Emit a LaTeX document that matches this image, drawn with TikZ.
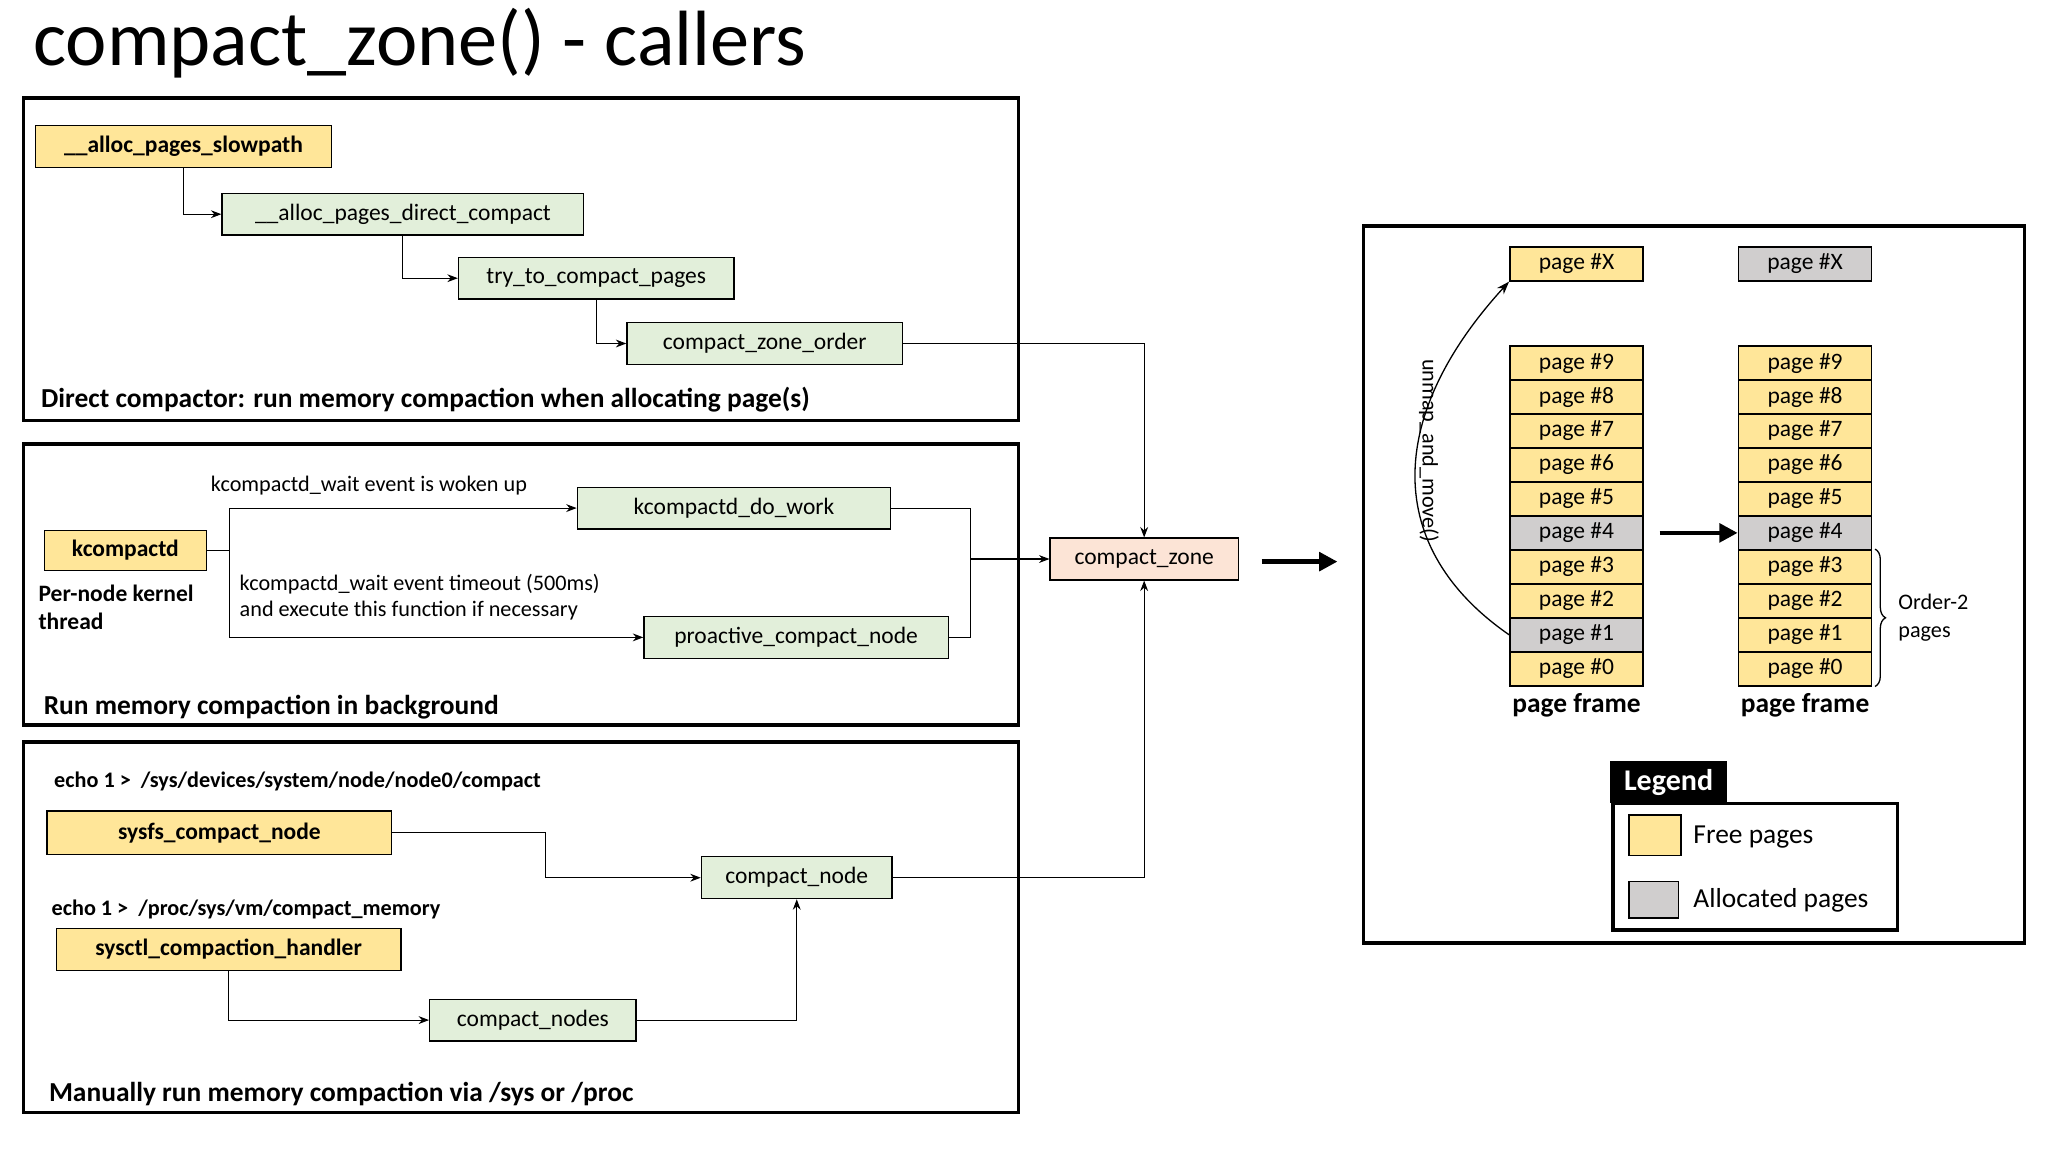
\documentclass[tikz,border=0pt]{standalone}
\usepackage{fontspec}
\setmainfont{Carlito}
\usetikzlibrary{arrows.meta,positioning,decorations.pathreplacing,calc}

\definecolor{freeyel}{RGB}{255,230,153}
\definecolor{fngreen}{RGB}{226,239,218}
\definecolor{zonepeach}{RGB}{252,228,214}
\definecolor{allocgray}{RGB}{208,206,206}

\tikzset{
  fn/.style={draw, line width=1pt, fill=fngreen, inner sep=0pt, font=\fontsize{18}{20}\selectfont},
  entry/.style={fn, fill=freeyel, font=\fontsize{18}{20}\selectfont\bfseries},
  group/.style={draw, line width=2.5pt},
  caption/.style={anchor=base west, font=\fontsize{21}{24}\selectfont\bfseries},
  note/.style={anchor=base west, font=\fontsize{17}{20}\selectfont, align=left},
  call/.style={-{Stealth[length=8pt,width=6pt]}, line width=0.8pt},
  page/.style={draw, line width=1.2pt, fill=freeyel, minimum width=102pt, minimum height=26pt, inner sep=0pt, font=\fontsize{18}{20}\selectfont},
  used/.style={page, fill=allocgray},
  bigarrow/.style={-{Triangle[length=14pt,width=14pt]}, line width=4pt}
}

\begin{document}
\begin{tikzpicture}[x=1pt,y=-1pt]
\useasboundingbox (0,0) rectangle (1568,882);
\node[anchor=base west, font=\fontsize{60}{66}\selectfont] (title) at (22,50) {compact\_zone() - callers};
%----------group frames------------------------
\draw[group] (18,75) rectangle (780,322);
\draw[group] (18,340) rectangle (780,555);
\draw[group] (18,568) rectangle (780,852);
\draw[group] (1044,173) rectangle (1550,722);
%----------direct compactor--------------------
\node[entry, minimum width=227pt, minimum height=32pt] (slow) at (140.5,112) {\_\_alloc\_pages\_slowpath};
\node[fn, minimum width=277pt, minimum height=32pt] (direct) at (308.5,164) {\_\_alloc\_pages\_direct\_compact};
\node[fn, minimum width=211pt, minimum height=32pt] (try) at (456.5,213) {try\_to\_compact\_pages};
\node[fn, minimum width=211pt, minimum height=32pt] (order) at (585.5,263) {compact\_zone\_order};
\draw[call] (slow.south) |- (direct.west);
\draw[call] (direct.south) |- (try.west);
\draw[call] (try.south) |- (order.west);
\node[caption] (cap1) at (28,312) {Direct compactor: run memory compaction when allocating page(s)};
%----------compact_zone------------------------
\node[fn, fill=zonepeach, minimum width=144pt, minimum height=32pt] (zone) at (876,428) {compact\_zone};
\draw[call] (order.east) -| (zone.north);
%----------background--------------------------
\node[entry, minimum width=124pt, minimum height=31pt] (kcd) at (96,421.5) {kcompactd};
\node[note, font=\fontsize{18}{22}\selectfont\bfseries, anchor=north west] (kcdnote) at (26,444) {Per-node kernel\\thread};
\node[fn, minimum width=240pt, minimum height=32pt] (work) at (562,389) {kcompactd\_do\_work};
\node[fn, minimum width=233pt, minimum height=32pt] (proact) at (609.5,488) {proactive\_compact\_node};
\coordinate (fork) at (176,421.5);
\coordinate (join) at (743,428);
\draw[line width=0.8pt] (kcd.east) -- (fork);
\draw[call] (fork) |- (work.west);
\draw[call] (fork) |- (proact.west);
\draw[line width=0.8pt] (work.east) -| (join) |- (proact.east);
\draw[call] (join) -- (zone.west);
\node[note] (woken) at (158,376) {kcompactd\_wait event is woken up};
\node[note, anchor=north west] (timeout) at (180,436) {kcompactd\_wait event timeout (500ms)\\and execute this function if necessary};
\node[caption] (cap2) at (30,547) {Run memory compaction in background};
%----------manual------------------------------
\node[note, font=\fontsize{17}{20}\selectfont\bfseries] (sysecho) at (38,603) {echo 1 >\ \ /sys/devices/system/node/node0/compact};
\node[entry, minimum width=264pt, minimum height=33pt] (sysfs) at (168,637.5) {sysfs\_compact\_node};
\node[fn, minimum width=146pt, minimum height=32pt] (cnode) at (610,672) {compact\_node};
\node[note, font=\fontsize{17}{20}\selectfont\bfseries] (procecho) at (36,701) {echo 1 >\ \ /proc/sys/vm/compact\_memory};
\node[entry, minimum width=264pt, minimum height=32pt] (sysctl) at (175,727) {sysctl\_compaction\_handler};
\node[fn, minimum width=158pt, minimum height=32pt] (cnodes) at (408,781) {compact\_nodes};
\draw[call] (sysfs.east) -- (418,637.5) |- (cnode.west);
\draw[call] (sysctl.south) |- (cnodes.west);
\draw[call] (cnodes.east) -| (cnode.south);
\draw[call] (cnode.east) -| (zone.south);
\node[caption] (cap3) at (34,843) {Manually run memory compaction via /sys or /proc};
%----------page frames-------------------------
\draw[bigarrow] (966,430) -- (1024,430);
\node[page] (lx) at (1207,202) {page \#X};
\node[used] (rx) at (1382,202) {page \#X};
\foreach \i in {0,...,9} {
  \node[page] (l\i) at (1207,{512-26*\i}) {page \#\i};
  \node[page] (r\i) at (1382,{512-26*\i}) {page \#\i};
}
\node[used] at (l4) {page \#4};
\node[used] at (l1) {page \#1};
\node[used] at (r4) {page \#4};
\node[font=\fontsize{21}{24}\selectfont\bfseries, below=2pt of l0] (lframe) {page frame};
\node[font=\fontsize{21}{24}\selectfont\bfseries, below=2pt of r0] (rframe) {page frame};
\draw[bigarrow, line width=3.5pt] ($(l4.east)+(12,0)$) -- (r4.west);
\draw[decorate, decoration={brace, amplitude=8pt}, line width=1pt] ($(r3.north east)+(2,0)$) -- ($(r0.south east)+(2,0)$)
  node[midway, right=14pt, align=left, font=\fontsize{17}{21}\selectfont] (order2) {Order-2\\pages};
\draw[-{Stealth[length=10pt,width=7pt]}, line width=1pt] (l1.west) .. controls (1060,420) and (1060,320) .. (lx.south west);
\node[rotate=-90, font=\fontsize{17}{20}\selectfont] (unmap) at (1094,345) {unmap\_and\_move()};
%----------legend------------------------------
\node[fill=black, text=white, font=\fontsize{23}{26}\selectfont\bfseries, minimum width=89pt, minimum height=32pt, inner sep=0pt] (legtab) at (1277.5,599) {Legend};
\draw[group] (1235,615) rectangle (1453,712);
\node[draw, line width=1.2pt, fill=freeyel, minimum width=40pt, minimum height=31pt, inner sep=0pt] (kfree) at (1267,639.5) {};
\node[draw, line width=1.2pt, fill=allocgray, minimum width=38pt, minimum height=28pt, inner sep=0pt] (kused) at (1266,689) {};
\node[anchor=west, font=\fontsize{21}{24}\selectfont] at (1293,641) {Free pages};
\node[anchor=west, font=\fontsize{21}{24}\selectfont] at (1293,689) {Allocated pages};
\end{tikzpicture}
\end{document}
